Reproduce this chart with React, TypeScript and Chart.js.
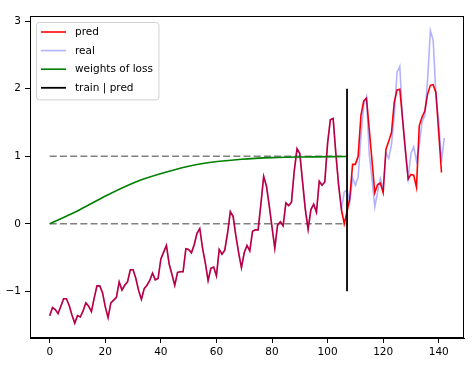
import React, { useEffect, useRef } from 'react';
import { Chart, registerables } from 'chart.js';

Chart.register(...registerables);

// ---- data ----
const xTicks = [0, 20, 40, 60, 80, 100, 120, 140];
const yTicks = [-1, 0, 1, 2, 3];

// real series, x = 0..142
const realValues = [
  -1.36, -1.24, -1.27, -1.33, -1.22, -1.11, -1.11, -1.21, -1.35, -1.47, -1.36,
  -1.38, -1.29, -1.17, -1.22, -1.30, -1.10, -0.92, -0.92, -1.02, -1.23, -1.39, -1.17,
  -1.13, -1.09, -0.86, -0.98, -0.91, -0.86, -0.68, -0.68, -0.81, -0.99, -1.12, -0.96,
  -0.91, -0.84, -0.73, -0.83, -0.81, -0.52, -0.42, -0.32, -0.60, -0.75, -0.91, -0.72,
  -0.71, -0.71, -0.37, -0.38, -0.43, -0.31, -0.14, -0.07, -0.36, -0.58, -0.84, -0.66,
  -0.64, -0.77, -0.38, -0.45, -0.39, -0.14, 0.18, 0.11, -0.18, -0.43, -0.65, -0.43,
  -0.32, -0.40, -0.11, -0.09, -0.09, 0.29, 0.70, 0.56, 0.27, -0.05, -0.36, -0.02,
  0.03, -0.03, 0.31, 0.27, 0.32, 0.78, 1.11, 1.04, 0.62, 0.21, -0.08, 0.21,
  0.29, 0.17, 0.63, 0.57, 0.62, 1.19, 1.54, 1.56, 1.03, 0.56, 0.21, 0.47,
  0.50, 0.32, 0.68, 0.57, 0.69, 1.29, 1.76, 1.88, 1.03, 0.66, 0.25, 0.47,
  0.67, 0.52, 1.05, 0.97, 1.17, 1.60, 2.24, 2.33, 1.53, 1.06, 0.68, 1.04,
  1.14, 0.93, 1.16, 1.51, 1.60, 2.13, 2.86, 2.72, 1.90, 1.51, 0.92, 1.27,
];

// pred equals real on the training part (x < predStart); predicted values from x = 106..141
const predStart = 106;
const predTestValues = [
  0.0, 0.18, 0.38, 0.88, 0.88, 1.0, 1.6, 1.82, 1.86, 1.4, 0.93, 0.46,
  0.58, 0.6, 0.46, 1.1, 1.22, 1.35, 1.8, 1.98, 1.99, 1.55, 1.1, 0.66,
  0.73, 0.72, 0.54, 1.45, 1.58, 1.67, 1.92, 2.05, 2.06, 1.94, 1.35, 0.76,
];

// weights of loss curve
const weightX = [0, 9, 15, 21, 33, 45, 54, 69, 80, 95, 107];
const weightY = [0, 0.17, 0.3, 0.43, 0.65, 0.8, 0.885, 0.955, 0.98, 0.99, 0.995];

// train | pred split and reference levels
const splitX = 107;
const splitRange = [-1, 2];
const refLevels = [0, 1];
const refStart = 0;

const legendLabels = ['pred', 'real', 'weights of loss', 'train | pred'];

const FONT = '"DejaVu Sans", "Liberation Sans", sans-serif';

const framePlugin = {
  id: 'frameAndLegend',
  afterDraw(chart: any) {
    const { ctx, chartArea } = chart;
    const { left, right, top, bottom } = chartArea;
    ctx.save();
    // frame
    ctx.strokeStyle = '#000';
    ctx.lineWidth = 1;
    ctx.strokeRect(Math.round(left) + 0.5, Math.round(top) + 0.5, Math.round(right - left) - 1, Math.round(bottom - top) - 1);

    // legend
    ctx.font = `10.5px ${FONT}`;
    const ds = chart.data.datasets;
    const colors = [ds[0].borderColor, ds[1].borderColor, ds[2].borderColor, ds[3].borderColor];
    const widths = [1.6, 1.6, 1.6, 1.8];
    const maxW = Math.max(...legendLabels.map((l) => ctx.measureText(l).width));
    const bx = left + 6.5;
    const by = top + 6.5;
    const rowH = 18.6;
    const bw = 38.5 + maxW + 6;
    const bh = rowH * 4 + 3;
    const r = 3;
    ctx.beginPath();
    ctx.moveTo(bx + r, by);
    ctx.lineTo(bx + bw - r, by);
    ctx.quadraticCurveTo(bx + bw, by, bx + bw, by + r);
    ctx.lineTo(bx + bw, by + bh - r);
    ctx.quadraticCurveTo(bx + bw, by + bh, bx + bw - r, by + bh);
    ctx.lineTo(bx + r, by + bh);
    ctx.quadraticCurveTo(bx, by + bh, bx, by + bh - r);
    ctx.lineTo(bx, by + r);
    ctx.quadraticCurveTo(bx, by, bx + r, by);
    ctx.closePath();
    ctx.fillStyle = 'rgba(255,255,255,0.8)';
    ctx.fill();
    ctx.strokeStyle = '#d0d0d0';
    ctx.lineWidth = 1;
    ctx.stroke();

    ctx.textBaseline = 'middle';
    ctx.textAlign = 'left';
    legendLabels.forEach((label, i) => {
      const cy = by + 9.5 + i * rowH;
      ctx.beginPath();
      ctx.strokeStyle = colors[i];
      ctx.lineWidth = widths[i];
      ctx.moveTo(bx + 4.5, cy);
      ctx.lineTo(bx + 29.5, cy);
      ctx.stroke();
      ctx.fillStyle = '#000';
      ctx.fillText(label, bx + 38.5, cy + 0.5);
    });
    ctx.restore();
  },
};

export default function App() {
  const ref = useRef<HTMLCanvasElement | null>(null);

  useEffect(() => {
    document.body.style.margin = '0';
    const canvas = ref.current;
    if (!canvas) return;

    const realData = realValues.map((y, x) => ({ x, y }));
    const predData = realValues
      .slice(0, predStart)
      .map((y, x) => ({ x, y }))
      .concat(predTestValues.map((y, i) => ({ x: predStart + i, y })));
    const weightData = weightX.map((x, i) => ({ x, y: weightY[i] }));
    const splitData = splitRange.map((y) => ({ x: splitX, y }));

    const common = { pointRadius: 0, pointHoverRadius: 0, fill: false, tension: 0 };

    const chart = new Chart(canvas, {
      type: 'line',
      data: {
        datasets: [
          { ...common, label: 'pred', data: predData, borderColor: '#ff0000', borderWidth: 1.6, order: 6 },
          { ...common, label: 'real', data: realData, borderColor: 'rgba(0,0,255,0.3)', borderWidth: 1.6, order: 5 },
          {
            ...common,
            label: 'weights of loss',
            data: weightData,
            borderColor: '#008000',
            borderWidth: 1.6,
            cubicInterpolationMode: 'monotone',
            order: 4,
          },
          { ...common, label: 'train | pred', data: splitData, borderColor: '#000000', borderWidth: 1.8, order: 1 },
          ...refLevels.map((lv) => ({
            ...common,
            label: 'ref' + lv,
            data: [
              { x: refStart, y: lv },
              { x: splitX, y: lv },
            ],
            borderColor: '#808080',
            borderWidth: 1.6,
            borderDash: [7, 3.2],
            order: 7,
          })),
        ],
      },
      options: {
        animation: false,
        responsive: false,
        maintainAspectRatio: false,
        events: [],
        layout: { padding: { top: 16, right: 10, left: 0, bottom: 0 } },
        plugins: { legend: { display: false }, tooltip: { enabled: false } },
        scales: {
          x: {
            type: 'linear',
            min: -7.1,
            max: 149.1,
            afterBuildTicks: (s: any) => {
              s.ticks = xTicks.map((v) => ({ value: v }));
            },
            afterFit: (s: any) => {
              s.height = 30;
            },
            ticks: {
              color: '#000',
              font: { family: FONT, size: 10.5 },
              padding: 3,
              maxRotation: 0,
              autoSkip: false,
            },
            grid: { drawOnChartArea: false, color: '#000', tickLength: 5, tickWidth: 1 },
            border: { display: true, color: '#000', width: 1 },
          },
          y: {
            type: 'linear',
            min: -1.691,
            max: 3.076,
            afterBuildTicks: (s: any) => {
              s.ticks = yTicks.map((v) => ({ value: v }));
            },
            afterFit: (s: any) => {
              s.width = 30;
            },
            ticks: {
              color: '#000',
              font: { family: FONT, size: 10.5 },
              padding: 4,
              callback: (v: any) => String(v).replace('-', '\u2212'),
            },
            grid: { drawOnChartArea: false, color: '#000', tickLength: 5, tickWidth: 1 },
            border: { display: true, color: '#000', width: 1 },
          },
        },
      },
      plugins: [framePlugin],
    });

    return () => chart.destroy();
  }, []);

  return (
    <div style={{ position: 'absolute', left: 0, top: 0, width: 474, height: 368, background: '#fff' }}>
      <canvas ref={ref} width={474} height={368} style={{ display: 'block', width: 474, height: 368 }} />
    </div>
  );
}
